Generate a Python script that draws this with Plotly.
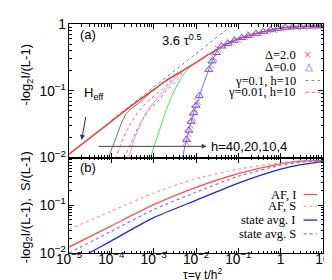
import plotly.graph_objects as go

# ---------------- panel (a) data ----------------
tau_fit = [1e-4, 0.0772]            # 3.6 tau^0.5 reference line
val_fit = [0.036, 1.0]

tau_main = [1e-5, 1e-4, 3e-4, 1e-3, 2e-3, 5e-3, 1e-2, 2e-2, 5e-2, 0.1, 0.2, 0.5, 1, 2, 5, 10]
val_main = [0.0113, 0.035, 0.060, 0.104, 0.143, 0.203, 0.265, 0.350, 0.495, 0.60, 0.69, 0.80, 0.87, 0.905, 0.925, 0.935]

tau_h40 = [7.5e-5, 8.55e-5, 1.32e-4, 1.72e-4, 2.24e-4, 2.92e-4, 4.46e-4, 6.5e-4, 8.4e-4, 1.1e-3]
val_h40 = [0.0075, 0.01, 0.0206, 0.0324, 0.0454, 0.0538, 0.0655, 0.081, 0.094, 0.108]

tau_h20 = [2.3e-4, 2.56e-4, 2.92e-4, 3.80e-4, 4.95e-4, 6.45e-4, 1.09e-3, 1.85e-3, 3.13e-3, 4.8e-3]
val_h20 = [0.008, 0.01, 0.0131, 0.0218, 0.0327, 0.0459, 0.0713, 0.1035, 0.150, 0.20]

tau_h10 = [7.7e-4, 8.39e-4, 1.09e-3, 1.42e-3, 1.85e-3, 2.41e-3, 3.13e-3, 4.07e-3, 5.31e-3, 7.3e-3]
val_h10 = [0.0075, 0.01, 0.0166, 0.0276, 0.0459, 0.0713, 0.1035, 0.140, 0.184, 0.232]

tau_h4 = [4.2e-3, 4.77e-3, 5.9e-3, 7.28e-3, 8.99e-3, 1.11e-2, 1.37e-2, 1.69e-2, 2.09e-2, 2.58e-2,
          3.19e-2, 3.94e-2, 4.86e-2, 0.06, 0.1, 0.2, 0.5, 1, 2, 5, 10]
val_h4 = [0.0065, 0.01, 0.0178, 0.0306, 0.0491, 0.0738, 0.107, 0.155, 0.225, 0.311,
          0.40, 0.462, 0.49, 0.52, 0.60, 0.69, 0.80, 0.87, 0.905, 0.925, 0.935]

tau_g01 = [1.8e-4, 2.02e-4, 2.92e-4, 3.80e-4, 5.4e-4, 7.67e-4, 1.19e-3, 1.85e-3, 3.13e-3, 5.0e-3]
val_g01 = [0.008, 0.01, 0.0164, 0.0244, 0.0362, 0.0508, 0.0673, 0.0944, 0.1325, 0.195]

tau_g001 = [1.1e-4, 1.26e-4, 1.72e-4, 2.24e-4, 3.19e-4, 4.53e-4, 7.67e-4, 1.30e-3, 2.2e-3, 3.2e-3]
val_g001 = [0.008, 0.01, 0.0164, 0.0244, 0.0362, 0.0508, 0.0713, 0.0944, 0.127, 0.17]

tau_d2 = [5.8e-3, 6.5e-3, 7.3e-3, 8.2e-3, 9.3e-3, 1.07e-2, 2.2e-2, 2.6e-2, 3.4e-2, 4.4e-2, 6.5e-2,
          0.095, 0.14, 0.2, 0.3, 0.45, 0.68, 1.0, 1.5, 2.3, 3.4, 5.2, 7.8]
val_d2 = [0.0169, 0.0228, 0.0307, 0.0399, 0.0524, 0.0689, 0.244, 0.314, 0.419, 0.476, 0.532,
          0.591, 0.643, 0.69, 0.736, 0.787, 0.831, 0.871, 0.891, 0.909, 0.917, 0.925, 0.932]

tau_d0 = [6.0e-3, 6.8e-3, 7.7e-3, 8.8e-3, 1.0e-2, 1.2e-2, 2.0e-2, 2.4e-2, 3.0e-2, 4.0e-2, 5.6e-2,
          0.08, 0.12, 0.17, 0.26, 0.39, 0.58, 0.85, 1.3, 1.95, 2.9, 4.4, 6.6, 9.5]
val_d0 = [0.0186, 0.0256, 0.0347, 0.0468, 0.0603, 0.0847, 0.208, 0.278, 0.372, 0.465, 0.509,
          0.564, 0.622, 0.668, 0.719, 0.769, 0.815, 0.854, 0.884, 0.904, 0.913, 0.922, 0.929, 0.935]

# ---------------- panel (b) data ----------------
tau_b = [1e-5, 1e-4, 1e-3, 1e-2, 0.1, 1, 3, 10]
af_I = [0.0133, 0.0372, 0.103, 0.238, 0.461, 0.738, 0.847, 0.88]
af_S = [0.0313, 0.0751, 0.181, 0.362, 0.577, 0.782, 0.855, 0.888]
tau_bs = [1e-5, 3e-5, 1e-4, 1e-3, 1e-2, 0.1, 1, 3, 10]
st_I = [0.0058, 0.01, 0.018, 0.055, 0.127, 0.291, 0.571, 0.711, 0.839]
tau_bd = [1e-5, 1e-4, 1e-3, 1e-2, 0.1, 1, 3, 10]
st_S = [0.01, 0.0286, 0.0818, 0.188, 0.407, 0.693, 0.80, 0.867]

# ---------------- geometry helpers (pixel -> paper) ----------------
W, H = 332, 280
L, R, T, B = 61, 9, 12, 35
PW, PH = W - L - R, H - T - B
BOT_H = 97


def px(x):
    return (x - L) / PW


def py(y):
    return (H - B - y) / PH


SANS = "Liberation Sans, Arial, sans-serif"
SERIF = "Liberation Serif, Times New Roman, serif"

RED = "#f03c3c"
fig = go.Figure()


def line(x, y, color, width=1.0, dash="solid", ax="2"):
    xa = "x" if ax == "1" else "x" + ax
    ya = "y" if ax == "1" else "y" + ax
    fig.add_trace(go.Scatter(x=x, y=y, mode="lines",
                             line=dict(color=color, width=width, dash=dash, shape="spline", smoothing=0.6),
                             xaxis=xa, yaxis=ya, showlegend=False, hoverinfo="skip"))


# panel (a)
line(tau_fit, val_fit, "#8a8a8a", 1.0, "dot")
line(tau_h40, val_h40, "#6e6e6e", 1.0)
line(tau_g001, val_g001, "#f06060", 1.0, "dot")
line(tau_g01, val_g01, "#8a8a8a", 1.0, "dot")
line(tau_h20, val_h20, "#e58ef0", 1.0)
line(tau_h10, val_h10, "#44e044", 1.0)
line(tau_h4, val_h4, "#6c6cff", 1.0)
line(tau_main, val_main, RED, 1.5)
fig.add_trace(go.Scatter(x=tau_d2, y=val_d2, mode="markers", xaxis="x2", yaxis="y2",
                         marker=dict(symbol="x-thin-open", size=7, color="#ff7070",
                                     line=dict(color="#ff7070", width=1)),
                         showlegend=False, hoverinfo="skip"))
fig.add_trace(go.Scatter(x=tau_d0, y=val_d0, mode="markers", xaxis="x2", yaxis="y2",
                         marker=dict(symbol="triangle-up-open", size=7, color="#5a5aff",
                                     line=dict(color="#5a5aff", width=1)),
                         showlegend=False, hoverinfo="skip"))

# panel (b)
line(tau_b, af_S, "#ffa0a0", 1.3, "dot", "1")
line(tau_bd, st_S, "#8080ff", 1.3, "dot", "1")
line(tau_b, af_I, "#ff5050", 1.3, "solid", "1")
line(tau_bs, st_I, "#2020ff", 1.3, "solid", "1")

# legend samples (drawn as shapes / annotations in paper space)
shapes = []


def samp_line(x0, x1, y, color, dash, width=1.0):
    shapes.append(dict(type="line", xref="paper", yref="paper", x0=px(x0), x1=px(x1), y0=py(y), y1=py(y),
                       line=dict(color=color, width=width, dash=dash)))


samp_line(305, 320, 69.5, "#8a8a8a", "dot")
samp_line(305, 320, 81.5, "#f06060", "dot")
samp_line(303, 317, 185.5, "#ff5050", "solid", 1.3)
samp_line(303, 317, 197.5, "#ffa0a0", "dot", 1.3)
samp_line(303, 317, 211.5, "#2020ff", "solid", 1.3)
samp_line(303, 317, 225.5, "#8080ff", "dot", 1.3)

ann = []


def text(x, y, s, size=13, family=SANS, xanchor="center", angle=0, color="black"):
    ann.append(dict(x=px(x), y=py(y), xref="paper", yref="paper", text=s, showarrow=False,
                    xanchor=xanchor, yanchor="middle", textangle=angle,
                    font=dict(family=family, size=size, color=color)))


text(308, 43.5, "×", size=13, color="#ff7070")
text(309, 55.5, "△", size=10, color="#5a5aff")
text(80.5, 23, "(a)")
text(80.5, 157.5, "(b)")
text(177, 28, "3.6 τ<sup>0.5</sup>")
text(87, 83, "H<sub>eff</sub>")
text(205, 136.5, "h=40,20,10,4", xanchor="left")
for yy, s in [(43.5, "Δ=2.0"), (55.5, "Δ=0.0"), (69.5, "γ=0.1, h=10"), (81.5, "γ=0.01, h=10"),
              (185.5, "AF, I"), (197.5, "AF, S"), (211.5, "state avg. I"), (225.5, "state avg. S")]:
    text(297, yy, s, size=12.5, family=SERIF, xanchor="right")
text(17, 64, "-log<sub>2</sub>I/(L-1)", angle=-90)
text(17, 198, "-log<sub>2</sub>I/(L-1),  S/(L-1)", angle=-90)
text(199, 266, "τ=γ t/h<sup>2</sup>", size=12)

# arrows
ann.append(dict(x=px(74), y=py(130), xref="paper", yref="paper", ax=6, ay=-33, text=" ",
                showarrow=True, arrowhead=2, arrowsize=1, arrowwidth=1, arrowcolor="#333333", standoff=0))
ann.append(dict(x=px(203), y=py(136.5), xref="paper", yref="paper", ax=-111, ay=0, text=" ",
                showarrow=True, arrowhead=2, arrowsize=1, arrowwidth=1, arrowcolor="#444444", standoff=0))

common = dict(type="log", showgrid=False, zeroline=False, showline=True, linecolor="black", linewidth=1,
              ticks="inside", ticklen=5, tickcolor="black", mirror="allticks",
              tickmode="linear", tick0=0, dtick=1, exponentformat="power", showexponent="all",
              tickfont=dict(family=SANS, size=11, color="black"),
              minor=dict(ticks="inside", ticklen=2.5, tickcolor="black", dtick="D1", showgrid=False))

dom_b = [0, BOT_H / PH]
dom_a = [BOT_H / PH, 1]

fig.update_layout(
    width=W, height=H, margin=dict(l=L, r=R, t=T, b=B),
    paper_bgcolor="white", plot_bgcolor="white", showlegend=False,
    xaxis=dict(**common, domain=[0, 1], anchor="y", range=[-5, 1], ticklabelstandoff=-6),
    yaxis=dict(**common, domain=dom_b, anchor="x", range=[-2, -0.0005]),
    xaxis2=dict(**common, domain=[0, 1], anchor="y2", range=[-5, 1], showticklabels=False),
    yaxis2=dict(**common, domain=dom_a, anchor="x2", range=[-2, 0]),
    annotations=ann,
    shapes=shapes,
)

fig.write_html("out.html")
